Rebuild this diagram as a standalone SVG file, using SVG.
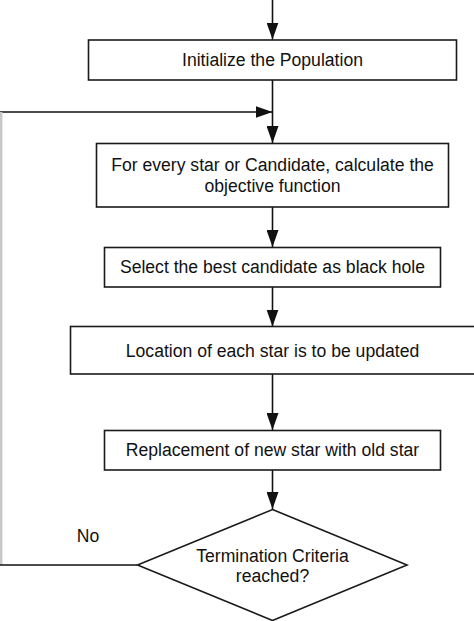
<svg xmlns="http://www.w3.org/2000/svg" width="474" height="621" viewBox="0 0 474 621">
<style>
.box{fill:#fff;stroke:#1a1a1a;stroke-width:1.6}
.t{font-family:"Liberation Sans",Arial,sans-serif;font-size:17.6px;fill:#111;text-anchor:middle}
.ln{fill:none;stroke:#111;stroke-width:1.6}
</style>
<defs>
<marker id="ah" markerWidth="17" markerHeight="12" refX="17" refY="6" viewBox="0 0 17 12" markerUnits="userSpaceOnUse" orient="auto">
<path d="M0,0 L17,6 L0,12 Z" fill="#111"/>
</marker>
</defs>
<rect width="474" height="621" fill="#fff"/>
<g id="connectors">
<line class="ln" x1="272.5" y1="0" x2="272.5" y2="39.5" marker-end="url(#ah)"/>
<line class="ln" x1="272.5" y1="80" x2="272.5" y2="143" marker-end="url(#ah)"/>
<line class="ln" x1="0" y1="112" x2="272.5" y2="112" marker-end="url(#ah)"/>
<line x1="1.2" y1="112" x2="1.2" y2="565" stroke="#c8c8c8" stroke-width="2.4"/>
<line class="ln" x1="0" y1="565" x2="137" y2="565"/>
<line class="ln" x1="272.5" y1="207" x2="272.5" y2="247" marker-end="url(#ah)"/>
<line class="ln" x1="272.5" y1="287" x2="272.5" y2="326.5" marker-end="url(#ah)"/>
<line class="ln" x1="272.5" y1="374" x2="272.5" y2="430" marker-end="url(#ah)"/>
<line class="ln" x1="272.5" y1="470" x2="272.5" y2="509" marker-end="url(#ah)"/>
<text class="t" x="88" y="542">No</text>
</g>
<g id="n1">
<rect class="box" x="88.5" y="40" width="368" height="40"/>
<text class="t" x="272.5" y="65.5">Initialize the Population</text>
</g>
<g id="n2">
<rect class="box" x="96.5" y="143.5" width="352" height="63.5"/>
<text class="t" x="272.5" y="170.5">For every star or Candidate, calculate the</text>
<text class="t" x="272.5" y="191.5">objective function</text>
</g>
<g id="n3">
<rect class="box" x="104.5" y="247.5" width="336" height="39.5"/>
<text class="t" x="272.5" y="272.5">Select the best candidate as black hole</text>
</g>
<g id="n4">
<rect class="box" x="70.5" y="326.5" width="410" height="47.5"/>
<text class="t" x="272.5" y="356.5">Location of each star is to be updated</text>
</g>
<g id="n5">
<rect class="box" x="104.5" y="430.5" width="336" height="39.5"/>
<text class="t" x="272.5" y="455.5">Replacement of new star with old star</text>
</g>
<g id="n6">
<polygon class="box" points="272.5,509.5 407,565 272.5,620.5 137.5,565"/>
<text class="t" x="272.5" y="561.5">Termination Criteria</text>
<text class="t" x="272.5" y="581.5">reached?</text>
</g>
</svg>
